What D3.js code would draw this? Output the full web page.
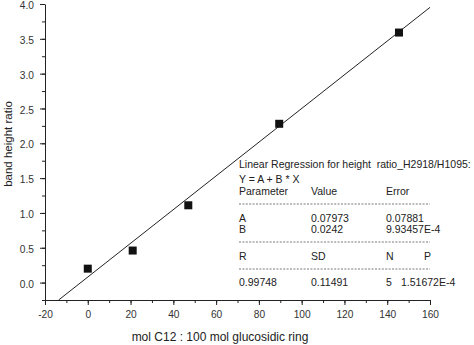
<!DOCTYPE html>
<html><head><meta charset="utf-8">
<script src="https://cdn.jsdelivr.net/npm/d3@7"></script>
<style>body{margin:0;background:#fff}text{font-family:"Liberation Sans",Arial,sans-serif;white-space:pre}</style>
</head><body><svg id="c" width="474" height="345"></svg>
<script>
const xValues = [0, 21, 47, 89.5, 145.5];
const yValues = [0.2, 0.46, 1.11, 2.28, 3.59];
const fitA = 0.07973, fitB = 0.0242;
const xTicks = [-20, 0, 20, 40, 60, 80, 100, 120, 140, 160];
const yTicks = [0.0, 0.5, 1.0, 1.5, 2.0, 2.5, 3.0, 3.5, 4.0];
const tableRows = [
  ["Parameter", "Value", "Error", ""],
  ["A", "0.07973", "0.07881", ""],
  ["B", "0.0242", "9.93457E-4", ""],
  ["R", "SD", "N", "P"],
  ["0.99748", "0.11491", "5", "1.51672E-4"]
];

const svg = d3.select("#c");
const x = d3.scaleLinear().domain([-20, 160]).range([45, 430]);
const y = d3.scaleLinear().domain([-0.25, 4.0]).range([300, 4]);

// minor ticks
const xMinor = d3.range(-20, 161, 10);
const yMinor = d3.range(-0.25, 4.001, 0.25);
svg.append("g").attr("transform","translate(0,300)")
  .call(d3.axisBottom(x).tickValues(xMinor).tickSize(3).tickFormat(""))
  .call(g=>g.select(".domain").remove())
  .selectAll("line").attr("stroke","#222");
svg.append("g").attr("transform","translate(45,0)")
  .call(d3.axisLeft(y).tickValues(yMinor).tickSize(3).tickFormat(""))
  .call(g=>g.select(".domain").remove())
  .selectAll("line").attr("stroke","#222");

const xa = svg.append("g").attr("transform","translate(0,300)")
  .call(d3.axisBottom(x).tickValues(xTicks).tickSize(5).tickSizeOuter(0).tickPadding(6).tickFormat(d=>String(d)));
const ya = svg.append("g").attr("transform","translate(45,0)")
  .call(d3.axisLeft(y).tickValues(yTicks).tickSize(5).tickSizeOuter(0).tickPadding(6).tickFormat(d=>d.toFixed(1)));
[xa, ya].forEach(g=>{
  g.selectAll("text").attr("font-size", 10.2).attr("fill", "#333").attr("font-family","Liberation Sans, Arial, sans-serif");
  g.selectAll("line,path").attr("stroke", "#222");
});
ya.selectAll(".tick text").attr("dy", "0.45em");

// fit line
const x0 = (-0.25 - fitA) / fitB, x1 = 160;
svg.append("line")
  .attr("x1", x(x0)).attr("y1", y(fitA + fitB*x0))
  .attr("x2", x(x1)).attr("y2", y(fitA + fitB*x1))
  .attr("stroke", "#222").attr("stroke-width", 1);

// points
svg.selectAll("rect.pt").data(xValues).join("rect").attr("class","pt")
  .attr("x", (d,i)=>x(d)-4).attr("y", (d,i)=>y(yValues[i])-4)
  .attr("width", 8).attr("height", 8).attr("fill", "#111");

// axis titles
svg.append("text").attr("x", 220).attr("y", 341).attr("text-anchor","middle")
  .attr("font-size", 12).attr("fill","#222").text("mol C12 : 100 mol glucosidic ring");
svg.append("text").attr("transform","translate(12,144) rotate(-90)").attr("text-anchor","middle")
  .attr("font-size", 11.5).attr("fill","#222").text("band height ratio");

// table
const tx = 239, colX = [239, 311, 386, 424];
const tt = svg.append("g").attr("font-size", 10.5).attr("fill", "#222");
tt.append("text").attr("x", tx).attr("y", 168).attr("xml:space","preserve").text("Linear Regression for height  ratio_H2918/H1095:");
tt.append("text").attr("x", tx).attr("y", 183).text("Y = A + B * X");
const rowY = [195, 222, 233, 260, 286];
tableRows.forEach((r,i)=>{
  r.forEach((c,j)=>{ if(c) tt.append("text").attr("x", j===3 && i===4 ? 401 : colX[j]).attr("y", rowY[i]).text(c); });
});
[204, 242, 269].forEach(yy=>{
  svg.append("line").attr("x1", 239).attr("x2", 430).attr("y1", yy).attr("y2", yy)
    .attr("stroke","#555").attr("stroke-width",0.8).attr("stroke-dasharray","2,1.4");
});
</script></body></html>
